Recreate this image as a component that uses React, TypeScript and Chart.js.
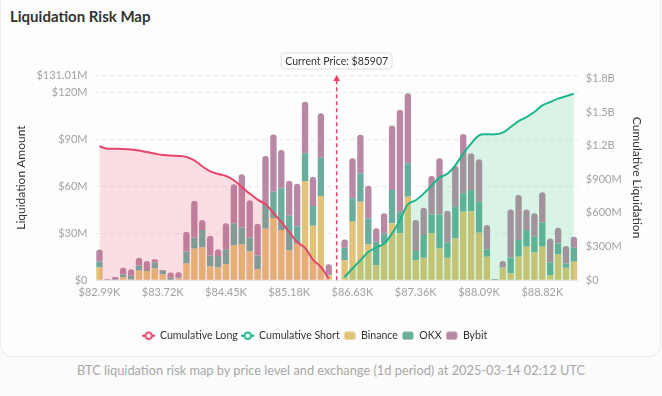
import React, { useEffect, useRef } from 'react';
import { Chart, registerables } from 'chart.js';
Chart.register(...registerables);

const priceLabels = [
  '$82.99K', '$83.08K', '$83.17K', '$83.26K', '$83.36K', '$83.45K', '$83.54K', '$83.63K',
  '$83.72K', '$83.81K', '$83.90K', '$83.99K', '$84.08K', '$84.17K', '$84.27K', '$84.36K',
  '$84.45K', '$84.54K', '$84.63K', '$84.72K', '$84.81K', '$84.90K', '$84.99K', '$85.09K',
  '$85.18K', '$85.27K', '$85.36K', '$85.45K', '$85.54K', '$85.63K',
  '$85.91K',
  '$86.54K', '$86.63K', '$86.72K', '$86.81K', '$86.90K', '$86.99K', '$87.09K', '$87.18K',
  '$87.27K', '$87.36K', '$87.45K', '$87.54K', '$87.63K', '$87.72K', '$87.81K', '$87.90K',
  '$88.00K', '$88.09K', '$88.18K', '$88.27K', '$88.36K', '$88.45K', '$88.54K', '$88.63K',
  '$88.72K', '$88.82K', '$88.91K', '$89.00K', '$89.09K', '$89.18K',
];

// $M per price level
const binance = [
  8.1, 0.2, 0.3, 1.9, 0.4, 6.0, 5.9, 7.5, 3.6, 0.3, 1.1, 10.7, 20.0, 20.9, 8.8, 8.1, 10.2, 22.2, 22.8, 18.4,
  7.0, 32.8, 39.7, 32.0, 19.0, 23.2, 63.3, 34.7, 53.7, 3.2,
  null,
  12.8, 37.3, 50.1, 22.8, 9.6, 23.5, 36.3, 29.9, 53.3, 12.8, 14.3, 29.9, 20.3, 14.3, 26.7, 43.7, 44.1, 30.3, 14.9,
  0.2, 7.9, 4.3, 14.9, 21.3, 17.7, 21.3, 3.2, 16.4, 7.9, 11.7,
];
const okx = [
  3.9, 0.1, 0.3, 1.7, 2.4, 3.4, 0.6, 3.8, 2.5, 1.2, 0.8, 7.7, 7.1, 11.1, 7.0, 7.4, 9.6, 14.1, 10.9, 8.9,
  8.8, 15.8, 16.8, 26.7, 22.1, 11.3, 17.7, 12.6, 24.5, 0.3,
  null,
  7.9, 15.0, 18.2, 16.7, 14.9, 6.4, 21.3, 13.8, 21.4, 5.8, 14.5, 12.1, 21.7, 9.6, 20.2, 11.8, 13.5, 19.8, 4.7,
  0.2, 0.3, 10.2, 10.7, 10.7, 10.0, 15.6, 8.1, 7.1, 2.8, 9.0,
];
const bybit = [
  7.6, 0.3, 1.5, 4.3, 4.2, 4.9, 5.7, 2.1, 0.4, 3.4, 3.2, 12.5, 23.6, 6.4, 12.5, 4.3, 16.5, 24.9, 33.9, 23.7,
  20.2, 30.7, 36.5, 24.5, 22.4, 27.1, 32.9, 18.8, 28.4, 6.7,
  null,
  5.3, 25.5, 24.5, 20.8, 8.6, 12.8, 41.1, 65.1, 44.7, 19.8, 17.5, 24.5, 35.8, 20.4, 26.0, 37.9, 23.4, 27.1, 15.6,
  0.3, 4.0, 30.7, 28.8, 13.2, 15.0, 19.2, 15.4, 10.0, 11.2, 7.0,
];

// $M cumulative (right axis)
const cumulativeLong = [
  1194, 1173, 1173, 1170, 1165, 1156, 1143, 1129, 1117, 1111, 1108, 1099, 1069, 1016, 971,
  947, 929, 891, 831, 772, 719, 677, 600, 519, 430, 341, 288, 184, 119, 15,
];
const cumulativeShort = [
  29, 104, 178, 252, 291, 327, 416, 535, 677, 713, 772, 846, 915, 950, 1025,
  1129, 1218, 1292, 1301, 1301, 1316, 1366, 1419, 1455, 1500, 1559, 1589, 1619, 1640, 1664,
];

const leftTicks = [0, 30, 60, 90, 120, 131.01];
const rightTicks = [0, 300, 600, 900, 1200, 1500, 1800];
const leftMax = 131.01;
const rightMax = 1830;
const currentIndex = 30;
const currentPrice = 85907;
const captionText = 'BTC liquidation risk map by price level and exchange (1d period) at 2025-03-14 02:12 UTC';

const FONT = 'Lato, "Noto Sans", sans-serif';
const LONG = '#E8456B';
const SHORT = '#1DB58E';
const C_BIN = 'rgb(226,194,118)';
const C_OKX = 'rgb(106,173,156)';
const C_BYB = 'rgb(184,136,164)';

function makeLineIcon(color: string) {
  const c = document.createElement('canvas');
  c.width = 13; c.height = 10;
  const x = c.getContext('2d')!;
  x.strokeStyle = color; x.lineWidth = 2;
  x.beginPath(); x.moveTo(0, 5); x.lineTo(13, 5); x.stroke();
  x.fillStyle = '#fff';
  x.beginPath(); x.arc(6.5, 5, 3.3, 0, Math.PI * 2); x.fill(); x.stroke();
  return c;
}
function makeBoxIcon(color: string) {
  const c = document.createElement('canvas');
  c.width = 12; c.height = 9;
  const x = c.getContext('2d')!;
  x.fillStyle = color;
  x.beginPath();
  (x as any).roundRect(0.5, 0.5, 11, 8, 2);
  x.fill();
  return c;
}

const legendShiftPlugin = {
  id: 'legendShift',
  afterLayout(chart: any) {
    const l = chart.legend;
    if (l) { l.left -= 14; l.right -= 14; }
  },
};

const currentPricePlugin = {
  id: 'currentPrice',
  afterDatasetsDraw(chart: any) {
    const { ctx, chartArea, scales } = chart;
    const x = scales.x.getPixelForValue(currentIndex);
    ctx.save();
    ctx.strokeStyle = LONG;
    ctx.lineWidth = 1.5;
    ctx.setLineDash([4, 3]);
    ctx.beginPath();
    ctx.moveTo(x, chartArea.bottom);
    ctx.lineTo(x, chartArea.top + 5);
    ctx.stroke();
    ctx.setLineDash([]);
    ctx.fillStyle = LONG;
    ctx.beginPath();
    ctx.moveTo(x, chartArea.top);
    ctx.lineTo(x - 3.5, chartArea.top + 6);
    ctx.lineTo(x + 3.5, chartArea.top + 6);
    ctx.closePath();
    ctx.fill();
    ctx.font = '10.5px ' + FONT;
    const text = `Current Price: $${currentPrice}`;
    const w = ctx.measureText(text).width + 8;
    const h = 16;
    const bx = x - w / 2;
    const by = chartArea.top - 22;
    ctx.beginPath();
    ctx.roundRect(bx, by, w, h, 4);
    ctx.fillStyle = '#ffffff';
    ctx.fill();
    ctx.strokeStyle = '#dddddd';
    ctx.lineWidth = 1;
    ctx.stroke();
    ctx.fillStyle = '#333';
    ctx.textAlign = 'center';
    ctx.textBaseline = 'middle';
    ctx.fillText(text, x, by + h / 2 + 0.5);
    ctx.restore();
  },
};

export default function App() {
  const ref = useRef<HTMLCanvasElement>(null);
  useEffect(() => {
    document.body.style.margin = '0';
    document.body.style.background = '#fbfbfb';
    const icons = [makeLineIcon(LONG), makeLineIcon(SHORT), makeBoxIcon(C_BIN), makeBoxIcon(C_OKX), makeBoxIcon(C_BYB)];
    const nullsLong = new Array(priceLabels.length - cumulativeLong.length).fill(null);
    const nullsShort = new Array(priceLabels.length - cumulativeShort.length).fill(null);
    const tickFont = { size: 11, family: FONT };
    const chart = new Chart(ref.current!, {
      type: 'bar',
      data: {
        labels: priceLabels,
        datasets: [
          {
            type: 'line', label: 'Cumulative Long', data: [...cumulativeLong, ...nullsLong] as any,
            borderColor: LONG, backgroundColor: 'rgba(236,84,115,0.18)', fill: 'origin', tension: 0.35,
            pointRadius: 0, borderWidth: 2, yAxisID: 'y1', order: 0,
          },
          {
            type: 'line', label: 'Cumulative Short', data: [...nullsShort, ...cumulativeShort] as any,
            borderColor: SHORT, backgroundColor: 'rgba(40,200,120,0.17)', fill: 'origin', tension: 0.35,
            pointRadius: 0, borderWidth: 2, yAxisID: 'y1', order: 0,
          },
          { type: 'bar', label: 'Binance', data: binance as any, backgroundColor: C_BIN, borderWidth: 0, borderRadius: 3, stack: 's', yAxisID: 'y', order: 1 },
          { type: 'bar', label: 'OKX', data: okx as any, backgroundColor: C_OKX, borderWidth: 0, borderRadius: 3, stack: 's', yAxisID: 'y', order: 1 },
          { type: 'bar', label: 'Bybit', data: bybit as any, backgroundColor: C_BYB, borderWidth: 0, borderRadius: 3, stack: 's', yAxisID: 'y', order: 1 },
        ] as any,
      },
      options: {
        responsive: false,
        animation: false,
        layout: { padding: { top: 35, left: 12, right: 16, bottom: 1 } },
        datasets: { bar: { categoryPercentage: 1, barPercentage: 0.8 } } as any,
        scales: {
          x: {
            stacked: true,
            grid: { display: false, drawTicks: false },
            border: { display: true, color: '#e6e6e6' },
            afterFit: (s: any) => { s.height += 21; },
            ticks: {
              autoSkip: false, maxRotation: 0, padding: 6, color: '#a3a3a3', font: tickFont,
              callback: (_v: any, i: number) => (i % 8 === 0 ? priceLabels[i] : ''),
            },
          },
          y: {
            stacked: true, position: 'left', min: 0, max: leftMax,
            afterBuildTicks: (s: any) => { s.ticks = leftTicks.map((v) => ({ value: v })); },
            grid: { color: '#e8e8e8', drawTicks: false },
            border: { display: false, dash: [4, 4] },
            ticks: {
              padding: 8, color: '#a3a3a3', font: tickFont,
              callback: (v: any) => (v === 0 ? '$0' : `$${v}M`),
            },
            title: { display: true, text: 'Liquidation Amount', color: '#333', font: { size: 12, family: FONT }, padding: { top: 2, bottom: 0 } },
          },
          y1: {
            position: 'right', min: 0, max: rightMax,
            afterBuildTicks: (s: any) => { s.ticks = rightTicks.map((v) => ({ value: v })); },
            grid: { display: false, drawTicks: false },
            border: { display: false },
            ticks: {
              padding: 8, color: '#a3a3a3', font: tickFont,
              callback: (v: any) => (v === 0 ? '$0' : v >= 1000 ? `$${(v / 1000).toFixed(1)}B` : `$${v}M`),
            },
            title: { display: true, text: 'Cumulative Liquidation', color: '#333', font: { size: 12, family: FONT }, padding: { top: 2, bottom: 0 } },
          },
        },
        plugins: {
          tooltip: { enabled: false },
          legend: {
            position: 'bottom',
            labels: {
              usePointStyle: true, pointStyleWidth: 12, padding: 4, color: '#333',
              font: { size: 10.6, family: FONT },
              generateLabels: (c: any) => c.data.datasets.map((ds: any, i: number) => ({
                text: ds.label, datasetIndex: i, hidden: !c.isDatasetVisible(i), pointStyle: icons[i],
                fontColor: '#333', lineWidth: 0, strokeStyle: 'rgba(0,0,0,0)', fillStyle: 'rgba(0,0,0,0)',
              })),
            },
          },
        },
      } as any,
      plugins: [currentPricePlugin, legendShiftPlugin],
    });
    return () => chart.destroy();
  }, []);

  return (
    <div style={{ position: 'relative', width: 662, height: 396, background: '#fbfbfb', fontFamily: FONT, overflow: 'hidden' }}>
      <div style={{ position: 'absolute', left: 0, top: -20, width: 659, height: 375, border: '1px solid #ebebeb', borderRadius: 12, background: '#fdfdfd' }} />
      <div style={{ position: 'absolute', left: 10, top: 7, fontSize: 15, fontWeight: 700, color: '#333' }}>Liquidation Risk Map</div>
      <canvas ref={ref} width={662} height={312} style={{ position: 'absolute', left: 0, top: 40, display: 'block' }} />
      <div style={{ position: 'absolute', left: 0, width: 662, top: 362, textAlign: 'center', fontSize: 12.8, color: '#a8a8a8' }}>{captionText}</div>
    </div>
  );
}
